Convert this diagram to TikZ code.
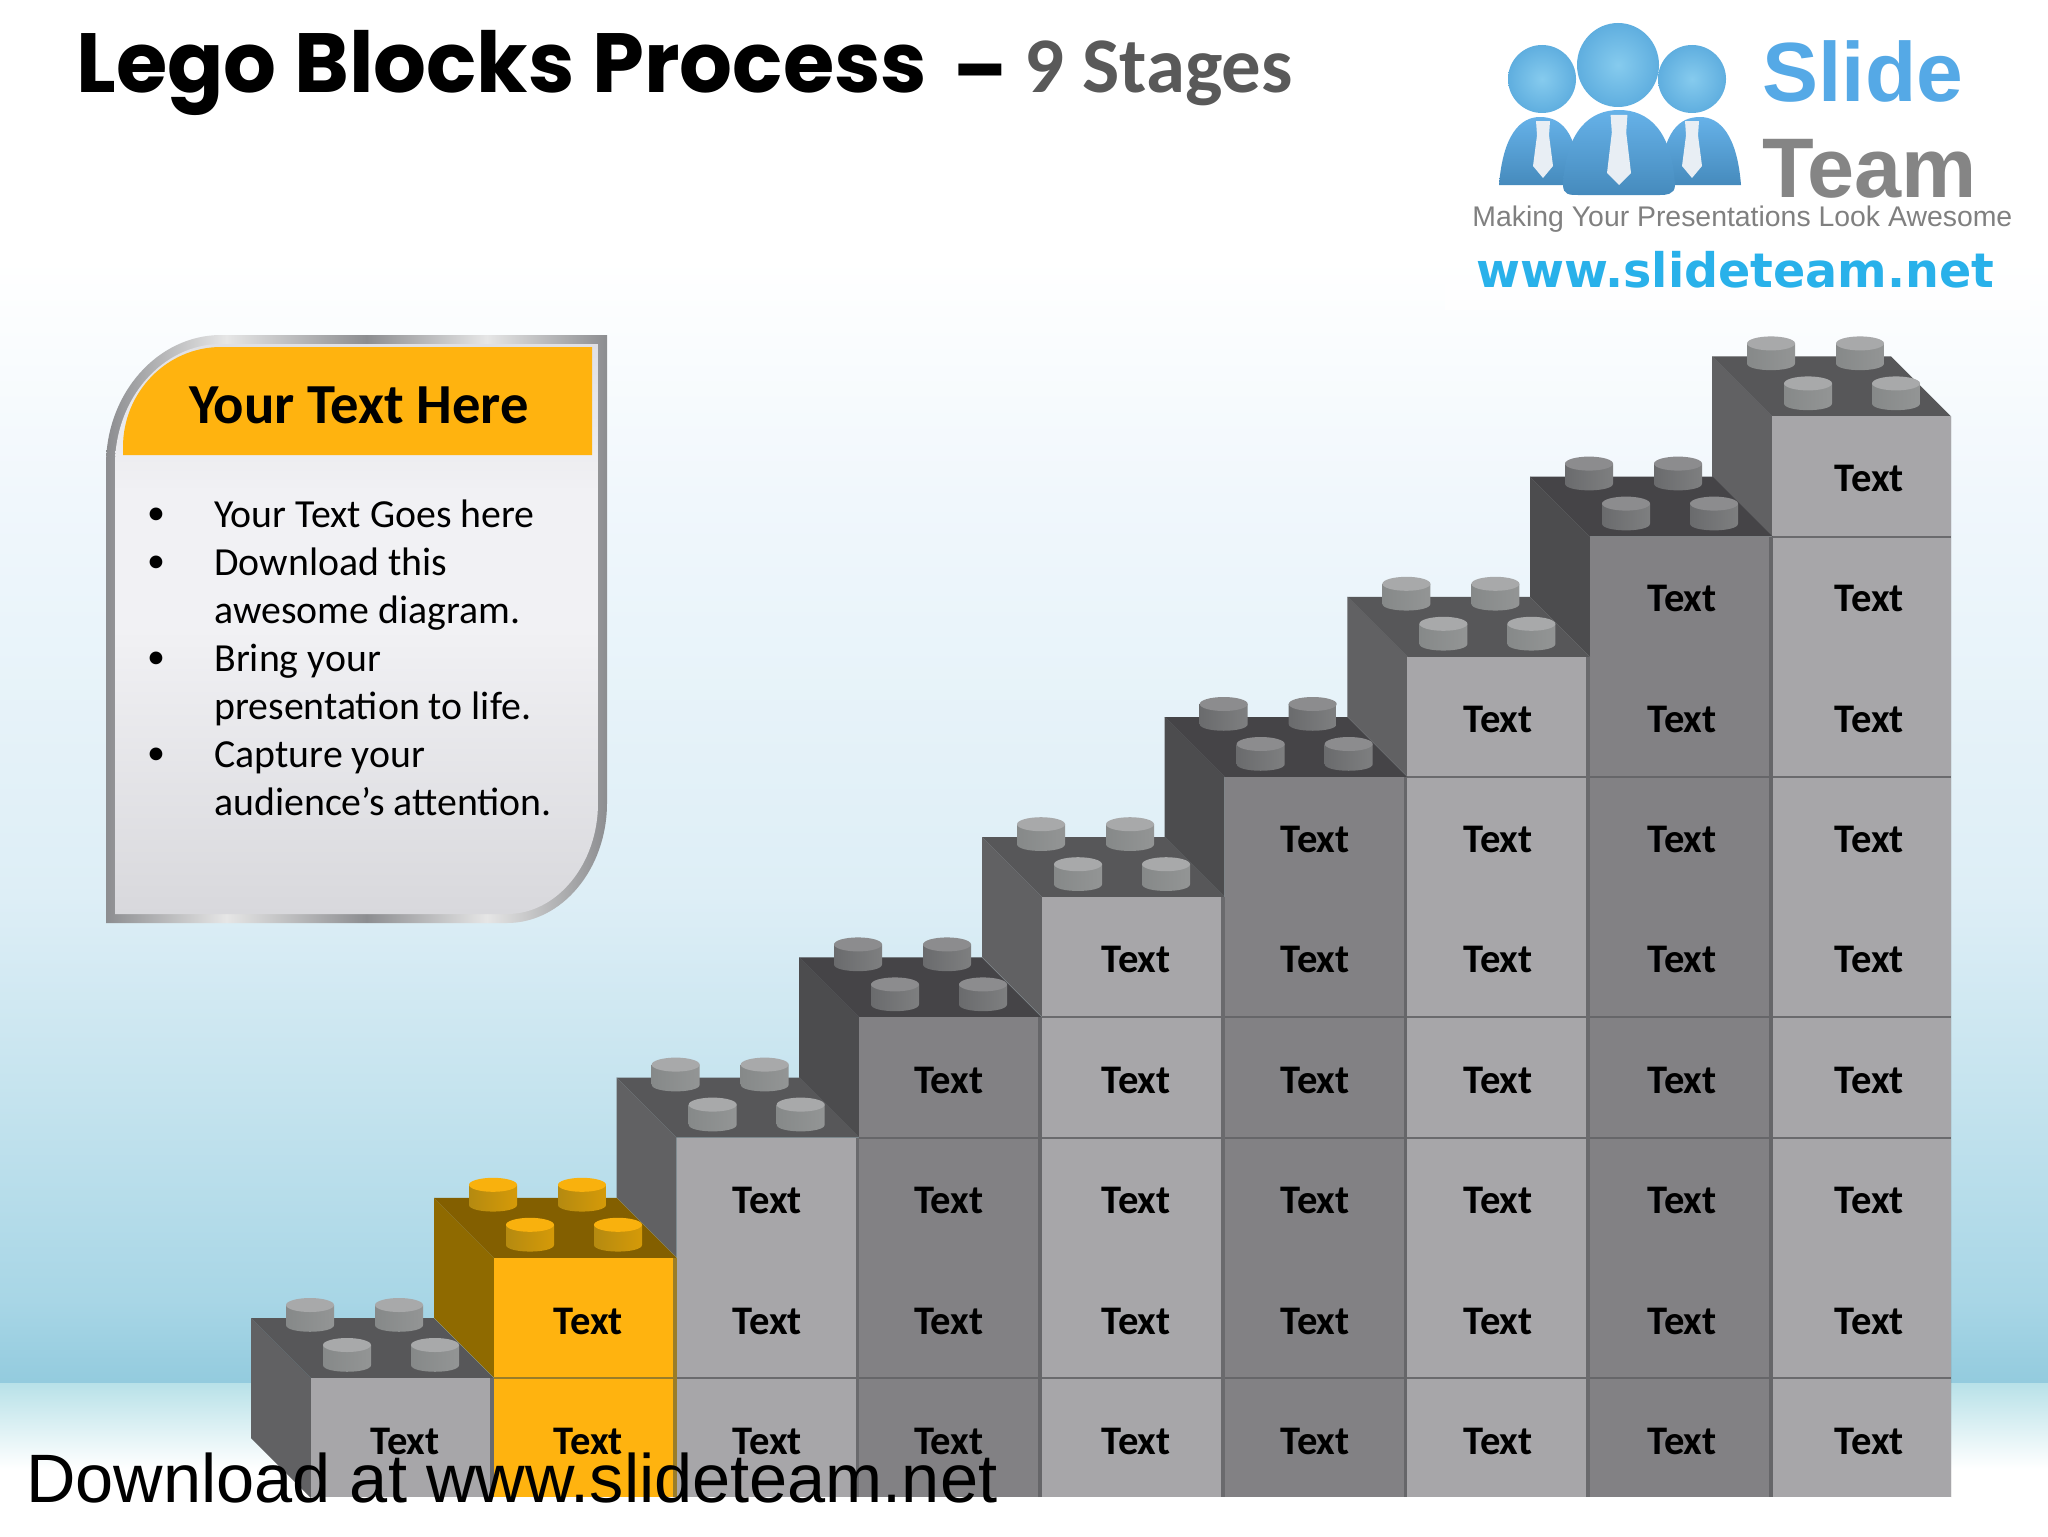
\documentclass[tikz,border=0pt]{standalone}
\usepackage{fontspec}
\setmainfont{Carlito}
\newfontfamily\titlefont{Poppins}
\newfontfamily\arialfont{Liberation Sans}
\newfontfamily\verdfont{DejaVu Sans}
\newcommand{\fsz}[1]{\fontsize{#1}{#1}\selectfont}
% colours
\definecolor{bgA}{HTML}{FFFFFF}\definecolor{bgB}{HTML}{F0F7FC}\definecolor{bgC}{HTML}{DDEEF6}
\definecolor{bgD}{HTML}{C4E3EE}\definecolor{bgE}{HTML}{A8D6E6}\definecolor{bgF}{HTML}{93CBDE}
\definecolor{bgG}{HTML}{B8E1E8}
\definecolor{sideL}{HTML}{616163}\definecolor{topL}{HTML}{575759}\definecolor{cellL}{HTML}{A7A6A9}\definecolor{sepL}{HTML}{6A6A6D}
\definecolor{sideD}{HTML}{4C4C4E}\definecolor{topD}{HTML}{454447}\definecolor{cellD}{HTML}{828184}\definecolor{sepD}{HTML}{666669}
\definecolor{sideY}{HTML}{8F6A00}\definecolor{topY}{HTML}{835F00}\definecolor{cellY}{HTML}{FFB30F}\definecolor{sepY}{HTML}{9A7D28}
\definecolor{stlL}{HTML}{868989}\definecolor{stmL}{HTML}{A8AAAA}\definecolor{strL}{HTML}{939595}\definecolor{sttL}{HTML}{A8A9AA}
\definecolor{stlD}{HTML}{6A6B6D}\definecolor{stmD}{HTML}{959697}\definecolor{strD}{HTML}{7E7F80}\definecolor{sttD}{HTML}{8C8C8E}
\definecolor{stlY}{HTML}{B58A10}\definecolor{stmY}{HTML}{F0AB10}\definecolor{strY}{HTML}{D59A08}\definecolor{sttY}{HTML}{F9B10D}
\definecolor{metD}{HTML}{8C8D90}\definecolor{metL}{HTML}{E6E6E6}
\definecolor{cardA}{HTML}{D8D8DC}\definecolor{cardB}{HTML}{F1F1F4}\definecolor{cardC}{HTML}{E0E0E4}
\definecolor{gold}{HTML}{FFB30F}
\definecolor{logoBlue}{HTML}{55A9E6}\definecolor{logoGrey}{HTML}{858585}\definecolor{logoUrl}{HTML}{29B1EA}
\definecolor{headIn}{HTML}{86CBEE}\definecolor{headOut}{HTML}{5FAEDF}\definecolor{tieFill}{HTML}{E8EEF4}
\pgfdeclareverticalshading{bgtop}{100bp}{color(0bp)=(bgF);color(25bp)=(bgF);color(28bp)=(bgE);color(35.2bp)=(bgD);color(42.5bp)=(bgC);color(56.9bp)=(bgB);color(65.6bp)=(bgA);color(100bp)=(bgA)}
\pgfdeclareverticalshading{bgbot}{100bp}{color(0bp)=(bgA);color(25bp)=(bgA);color(47bp)=(bgA);color(75bp)=(bgG);color(100bp)=(bgG)}
\pgfdeclarehorizontalshading{metal}{100bp}{color(0bp)=(metD);color(25bp)=(metD);color(37bp)=(metL);color(51bp)=(metD);color(63bp)=(metL);color(75bp)=(metD);color(100bp)=(metD)}
\pgfdeclareverticalshading{cardfill}{100bp}{color(0bp)=(cardA);color(25bp)=(cardA);color(50bp)=(cardB);color(62bp)=(cardB);color(75bp)=(cardC);color(100bp)=(cardC)}
\tikzset{
  cellText/.style={font=\bfseries\fsz{20.3},text=black,inner sep=0pt,anchor=base},
  bodyText/.style={font=\fsz{19.9},text=black,inner sep=0pt,anchor=base west},
  bulletMark/.style={font=\fsz{18},text=black,inner sep=0pt,anchor=base},
  bodyShade/.style={top color=logoBlue!90!white,bottom color=logoBlue!82!black},
  headShade/.style={inner color=headIn,outer color=headOut},
}
\newcommand{\legostud}[3]{%
  \path[left color=curstl,middle color=curstm,right color=curstr]
    (#1-24,#2) -- (#1-24,#3) .. controls (#1-24,#3+9) and (#1+24,#3+9) .. (#1+24,#3) -- (#1+24,#2) -- cycle;
  \fill[curstt] (#1,#2) ellipse [x radius=24,y radius=7];}
\begin{document}
\begin{tikzpicture}[x=0.5pt,y=-0.5pt]
\useasboundingbox (0,0) rectangle (2048,1536);
% background
\path[shading=bgtop] (0,0) rectangle (2048,1383);
\path[shading=bgbot] (0,1383) rectangle (2048,1536);
% logo patch
\fill[white,opacity=.7] (1445,0) rectangle (2030,310);
% columns, right to left
\def\cw{179}
\foreach \cc/\xl/\tx/\kind/\gp in {9/1772/1869.5/L/0,8/1590/1682/D/3.7,7/1407.4/1498/L/3.7,6/1224.7/1315/D/3.7,5/1042/1136/L/3.7,4/859/948.7/D/3.7,3/676.7/767.5/L/3.7,2/494/588.5/Y/3.7,1/311/405/L/3.7}{
  \colorlet{curside}{side\kind}\colorlet{curtop}{top\kind}\colorlet{curcell}{cell\kind}\colorlet{cursep}{sep\kind}
  \colorlet{curstl}{stl\kind}\colorlet{curstm}{stm\kind}\colorlet{curstr}{str\kind}\colorlet{curstt}{stt\kind}
  \pgfmathsetmacro{\tp}{1378-120.2*(\cc-1)}
  % side
  \fill[curside] (\xl-60,\tp-60) -- (\xl,\tp) -- (\xl,\tp+120) -- (\xl-60,\tp+60) -- cycle;
  % top
  \fill[curtop] (\xl-60,\tp-60) -- (\xl+\cw-60+\gp,\tp-60) -- (\xl+\cw+\gp,\tp) -- (\xl,\tp) -- cycle;
  % studs
  \legostud{\xl-1}{\tp-73}{\tp-53}
  \legostud{\xl+88}{\tp-73}{\tp-53}
  \legostud{\xl+36}{\tp-33}{\tp-13}
  \legostud{\xl+124}{\tp-33}{\tp-13}
  % front
  \fill[curcell] (\xl,\tp) rectangle (\xl+\cw,1497);
  \fill[cursep] (\xl+\cw,\tp) rectangle (\xl+\cw+\gp,1497);
  % block seams
  \foreach \j in {1,3,4,6,8}{
    \ifnum\j<\cc
      \pgfmathsetmacro{\ly}{1378-120.2*(\j-1)}
      \draw[cursep,line width=1pt] (\xl,\ly) -- (\xl+\cw,\ly);
    \fi
  }
  \foreach \j in {1,...,\cc}{
    \pgfmathsetmacro{\bly}{1454.5-120.4*(\j-1)}
    \node[cellText] (t\cc-\j) at (\tx,\bly) {Text};
  }
}
% card
\path[shading=metal] (106,465) .. controls (106,393) and (158,335) .. (221,335) -- (607,335) -- (607,803) .. controls (607,869) and (562,923) .. (507,923) -- (106,923) -- cycle;
\path[shading=cardfill] (115,465) .. controls (115,398) and (163,344) .. (221,344) -- (598,344) -- (598,803) .. controls (598,864) and (557,914) .. (507,914) -- (115,914) -- cycle;
\fill[gold] (123,455) -- (123,447) .. controls (123,392) and (167,347) .. (221,347) -- (592,347) -- (592,455) -- cycle;
\node[font=\bfseries\fsz{28.3},inner sep=0pt,anchor=base] (head) at (359,423) {Your Text Here};
\foreach \nm/\bly/\txt in {a/527/Your Text Goes here,b/575/Download this,c/623/awesome diagram.,d/671/Bring your,e/719/presentation to life.,f/767/Capture your,g/815/audience’s attention.}{
  \node[bodyText] (line\nm) at (214,\bly) {\txt};
}
\foreach \nm/\bly in {a/527,b/575,d/671,f/767}{
  \node[bulletMark] (bul\nm) at (156,\bly-3) {•};
}
% title
\node[font=\titlefont\bfseries\fsz{42},inner sep=0pt,anchor=base west] (title) at (76,92) {\scalebox{.99}[1]{Lego Blocks Process}};
\node[font=\titlefont\bfseries\fsz{42},inner sep=0pt,anchor=base west] (dash) at (953,99) {\scalebox{.92}[1]{–}};
\node[font=\bfseries\fsz{39.4},text=black!65,inner sep=0pt,anchor=base west] (stages) at (1024,92) {9 Stages};
% logo people
\path[bodyShade] (1499,185) .. controls (1503,135) and (1520,117) .. (1540,117) .. controls (1560,117) and (1578,130) .. (1580,185) -- cycle;
\path[bodyShade] (1660,185) .. controls (1662,130) and (1680,117) .. (1700,117) .. controls (1720,117) and (1737,135) .. (1741,185) -- cycle;
\path[bodyShade] (1563,185) .. controls (1566,130) and (1590,110) .. (1619,110) .. controls (1648,110) and (1672,130) .. (1675,185) .. controls (1675,195) and (1665,195) .. (1660,195) -- (1578,195) .. controls (1570,195) and (1563,195) .. (1563,185) -- cycle;
\path[headShade] (1542,79) ellipse [x radius=34,y radius=34];
\path[headShade] (1692,79) ellipse [x radius=34,y radius=34];
\path[headShade] (1618,65) ellipse [x radius=41,y radius=42];
\foreach \tcx/\ta/\tb/\tw in {1543/121/178/10,1692/121/178/10,1619/115/185/12}{
  \fill[tieFill] (\tcx-\tw*.7,\ta) -- (\tcx+\tw*.7,\ta) -- (\tcx+\tw*.6,\ta+.25*\tb-.25*\ta) -- (\tcx+\tw,\tb-12) -- (\tcx,\tb) -- (\tcx-\tw,\tb-12) -- (\tcx-\tw*.6,\ta+.25*\tb-.25*\ta) -- cycle;
}
\node[font=\arialfont\bfseries\fsz{42},text=logoBlue,inner sep=0pt,anchor=base west] (lgslide) at (1762,102) {Slide};
\node[font=\arialfont\bfseries\fsz{42.3},text=logoGrey,inner sep=0pt,anchor=base west] (lgteam) at (1762,197) {Team};
\node[font=\arialfont\fsz{14.2},text=black!50,inner sep=0pt,anchor=base west] (lgtag) at (1472,226) {Making Your Presentations Look Awesome};
\node[font=\verdfont\bfseries\fsz{23.8},text=logoUrl,inner sep=0pt,anchor=base west] (lgurl) at (1476,287) {www.slideteam.net};
% watermark
\node[font=\arialfont\fsz{34.25},text=black,inner sep=0pt,anchor=base west] (dl) at (26,1502) {Download at www.slideteam.net};
\end{tikzpicture}
\end{document}
